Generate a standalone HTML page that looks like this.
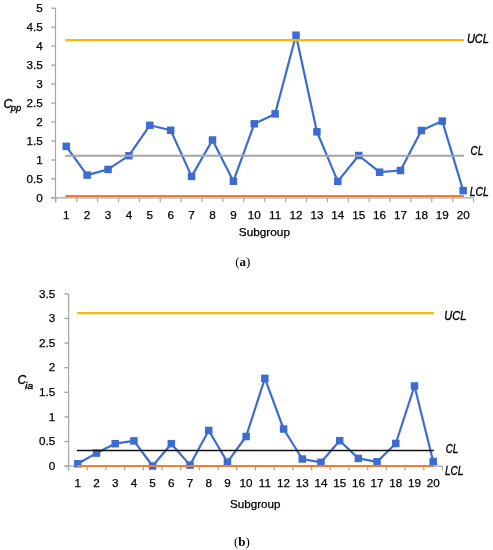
<!DOCTYPE html>
<html><head><meta charset="utf-8"><style>
html,body{margin:0;padding:0;background:#fff;}
svg{display:block;}
.axv{stroke:#A6A6A6;stroke-width:1.2;}
.axh{stroke:#A6A6A6;stroke-width:1.4;}
text{font-family:"Liberation Sans",sans-serif;fill:#000;stroke:#000;stroke-width:0.25px;}
.yl{font-size:11.7px;text-anchor:end;}
.xl{font-size:11.7px;text-anchor:middle;}
.ser{fill:none;stroke:#3C6CD0;stroke-width:2.2;stroke-linejoin:round;}
.mk{fill:#3C6CD0;}
.it{font-style:italic;font-size:12px;stroke-width:0.35px;}
.cap{font-family:"Liberation Serif",serif;font-size:13px;stroke:none;}
</style></head><body>
<svg width="493" height="550" viewBox="0 0 493 550">
<rect width="493" height="550" fill="#fff"/>
<line x1="55.5" y1="8.2" x2="55.5" y2="202.3" class="axv"/>
<line x1="51.3" y1="197.9" x2="473.6" y2="197.9" class="axh"/>
<line x1="51.3" y1="197.9" x2="55.5" y2="197.9" class="axh"/>
<text x="42.8" y="201.50" class="yl">0</text>
<line x1="51.3" y1="178.9" x2="55.5" y2="178.9" class="axh"/>
<text x="42.8" y="182.53" class="yl">0.5</text>
<line x1="51.3" y1="160.0" x2="55.5" y2="160.0" class="axh"/>
<text x="42.8" y="163.56" class="yl">1</text>
<line x1="51.3" y1="141.0" x2="55.5" y2="141.0" class="axh"/>
<text x="42.8" y="144.59" class="yl">1.5</text>
<line x1="51.3" y1="122.0" x2="55.5" y2="122.0" class="axh"/>
<text x="42.8" y="125.62" class="yl">2</text>
<line x1="51.3" y1="103.1" x2="55.5" y2="103.1" class="axh"/>
<text x="42.8" y="106.65" class="yl">2.5</text>
<line x1="51.3" y1="84.1" x2="55.5" y2="84.1" class="axh"/>
<text x="42.8" y="87.68" class="yl">3</text>
<line x1="51.3" y1="65.1" x2="55.5" y2="65.1" class="axh"/>
<text x="42.8" y="68.71" class="yl">3.5</text>
<line x1="51.3" y1="46.1" x2="55.5" y2="46.1" class="axh"/>
<text x="42.8" y="49.74" class="yl">4</text>
<line x1="51.3" y1="27.2" x2="55.5" y2="27.2" class="axh"/>
<text x="42.8" y="30.77" class="yl">4.5</text>
<line x1="51.3" y1="8.2" x2="55.5" y2="8.2" class="axh"/>
<text x="42.8" y="11.80" class="yl">5</text>
<line x1="55.8" y1="197.9" x2="55.8" y2="202.3" class="axv"/>
<line x1="76.7" y1="197.9" x2="76.7" y2="202.3" class="axv"/>
<line x1="97.6" y1="197.9" x2="97.6" y2="202.3" class="axv"/>
<line x1="118.5" y1="197.9" x2="118.5" y2="202.3" class="axv"/>
<line x1="139.4" y1="197.9" x2="139.4" y2="202.3" class="axv"/>
<line x1="160.2" y1="197.9" x2="160.2" y2="202.3" class="axv"/>
<line x1="181.1" y1="197.9" x2="181.1" y2="202.3" class="axv"/>
<line x1="202.0" y1="197.9" x2="202.0" y2="202.3" class="axv"/>
<line x1="222.9" y1="197.9" x2="222.9" y2="202.3" class="axv"/>
<line x1="243.8" y1="197.9" x2="243.8" y2="202.3" class="axv"/>
<line x1="264.7" y1="197.9" x2="264.7" y2="202.3" class="axv"/>
<line x1="285.6" y1="197.9" x2="285.6" y2="202.3" class="axv"/>
<line x1="306.5" y1="197.9" x2="306.5" y2="202.3" class="axv"/>
<line x1="327.4" y1="197.9" x2="327.4" y2="202.3" class="axv"/>
<line x1="348.3" y1="197.9" x2="348.3" y2="202.3" class="axv"/>
<line x1="369.2" y1="197.9" x2="369.2" y2="202.3" class="axv"/>
<line x1="390.0" y1="197.9" x2="390.0" y2="202.3" class="axv"/>
<line x1="410.9" y1="197.9" x2="410.9" y2="202.3" class="axv"/>
<line x1="431.8" y1="197.9" x2="431.8" y2="202.3" class="axv"/>
<line x1="452.7" y1="197.9" x2="452.7" y2="202.3" class="axv"/>
<line x1="473.6" y1="197.9" x2="473.6" y2="202.3" class="axv"/>
<text x="66.2" y="218.8" class="xl">1</text>
<text x="87.1" y="218.8" class="xl">2</text>
<text x="108.0" y="218.8" class="xl">3</text>
<text x="128.9" y="218.8" class="xl">4</text>
<text x="149.8" y="218.8" class="xl">5</text>
<text x="170.7" y="218.8" class="xl">6</text>
<text x="191.6" y="218.8" class="xl">7</text>
<text x="212.5" y="218.8" class="xl">8</text>
<text x="233.4" y="218.8" class="xl">9</text>
<text x="254.3" y="218.8" class="xl">10</text>
<text x="275.1" y="218.8" class="xl">11</text>
<text x="296.0" y="218.8" class="xl">12</text>
<text x="316.9" y="218.8" class="xl">13</text>
<text x="337.8" y="218.8" class="xl">14</text>
<text x="358.7" y="218.8" class="xl">15</text>
<text x="379.6" y="218.8" class="xl">16</text>
<text x="400.5" y="218.8" class="xl">17</text>
<text x="421.4" y="218.8" class="xl">18</text>
<text x="442.3" y="218.8" class="xl">19</text>
<text x="463.2" y="218.8" class="xl">20</text>
<polyline points="66.2,146.4 87.1,175.1 108.0,169.4 128.9,155.7 149.8,125.3 170.7,130.3 191.6,176.4 212.5,140.0 233.4,181.2 254.3,123.8 275.1,113.9 296.0,35.2 316.9,131.8 337.8,181.4 358.7,155.5 379.6,172.2 400.5,170.5 421.4,130.5 442.3,121.1 463.2,190.6" class="ser"/>
<rect x="62.50" y="142.65" width="7.5" height="7.5" class="mk"/>
<rect x="83.38" y="171.35" width="7.5" height="7.5" class="mk"/>
<rect x="104.28" y="165.65" width="7.5" height="7.5" class="mk"/>
<rect x="125.17" y="151.95" width="7.5" height="7.5" class="mk"/>
<rect x="146.06" y="121.55" width="7.5" height="7.5" class="mk"/>
<rect x="166.94" y="126.55" width="7.5" height="7.5" class="mk"/>
<rect x="187.83" y="172.65" width="7.5" height="7.5" class="mk"/>
<rect x="208.73" y="136.25" width="7.5" height="7.5" class="mk"/>
<rect x="229.62" y="177.45" width="7.5" height="7.5" class="mk"/>
<rect x="250.50" y="120.05" width="7.5" height="7.5" class="mk"/>
<rect x="271.39" y="110.15" width="7.5" height="7.5" class="mk"/>
<rect x="292.29" y="31.45" width="7.5" height="7.5" class="mk"/>
<rect x="313.18" y="128.05" width="7.5" height="7.5" class="mk"/>
<rect x="334.06" y="177.65" width="7.5" height="7.5" class="mk"/>
<rect x="354.96" y="151.75" width="7.5" height="7.5" class="mk"/>
<rect x="375.85" y="168.45" width="7.5" height="7.5" class="mk"/>
<rect x="396.74" y="166.75" width="7.5" height="7.5" class="mk"/>
<rect x="417.62" y="126.75" width="7.5" height="7.5" class="mk"/>
<rect x="438.52" y="117.35" width="7.5" height="7.5" class="mk"/>
<rect x="459.41" y="186.85" width="7.5" height="7.5" class="mk"/>
<line x1="65.3" y1="40.2" x2="463.9" y2="40.2" stroke="#FFB700" stroke-width="2.2" stroke-linecap="butt"/>
<line x1="65.3" y1="155.8" x2="463.9" y2="155.8" stroke="#A5A5A5" stroke-width="1.9" stroke-linecap="butt"/>
<line x1="65.3" y1="196.0" x2="463.9" y2="196.0" stroke="#ED7D31" stroke-width="2.2" stroke-linecap="butt"/>
<line x1="68.6" y1="293.9" x2="68.6" y2="470.5" class="axv"/>
<line x1="64.4" y1="466.1" x2="442.5" y2="466.1" class="axh"/>
<line x1="64.4" y1="466.1" x2="68.6" y2="466.1" class="axh"/>
<text x="55.3" y="469.70" class="yl">0</text>
<line x1="64.4" y1="441.5" x2="68.6" y2="441.5" class="axh"/>
<text x="55.3" y="445.10" class="yl">0.5</text>
<line x1="64.4" y1="416.9" x2="68.6" y2="416.9" class="axh"/>
<text x="55.3" y="420.50" class="yl">1</text>
<line x1="64.4" y1="392.3" x2="68.6" y2="392.3" class="axh"/>
<text x="55.3" y="395.90" class="yl">1.5</text>
<line x1="64.4" y1="367.7" x2="68.6" y2="367.7" class="axh"/>
<text x="55.3" y="371.30" class="yl">2</text>
<line x1="64.4" y1="343.1" x2="68.6" y2="343.1" class="axh"/>
<text x="55.3" y="346.70" class="yl">2.5</text>
<line x1="64.4" y1="318.5" x2="68.6" y2="318.5" class="axh"/>
<text x="55.3" y="322.10" class="yl">3</text>
<line x1="64.4" y1="293.9" x2="68.6" y2="293.9" class="axh"/>
<text x="55.3" y="297.50" class="yl">3.5</text>
<line x1="68.5" y1="466.1" x2="68.5" y2="470.5" class="axv"/>
<line x1="87.2" y1="466.1" x2="87.2" y2="470.5" class="axv"/>
<line x1="105.9" y1="466.1" x2="105.9" y2="470.5" class="axv"/>
<line x1="124.6" y1="466.1" x2="124.6" y2="470.5" class="axv"/>
<line x1="143.3" y1="466.1" x2="143.3" y2="470.5" class="axv"/>
<line x1="162.0" y1="466.1" x2="162.0" y2="470.5" class="axv"/>
<line x1="180.7" y1="466.1" x2="180.7" y2="470.5" class="axv"/>
<line x1="199.4" y1="466.1" x2="199.4" y2="470.5" class="axv"/>
<line x1="218.1" y1="466.1" x2="218.1" y2="470.5" class="axv"/>
<line x1="236.8" y1="466.1" x2="236.8" y2="470.5" class="axv"/>
<line x1="255.5" y1="466.1" x2="255.5" y2="470.5" class="axv"/>
<line x1="274.2" y1="466.1" x2="274.2" y2="470.5" class="axv"/>
<line x1="292.9" y1="466.1" x2="292.9" y2="470.5" class="axv"/>
<line x1="311.6" y1="466.1" x2="311.6" y2="470.5" class="axv"/>
<line x1="330.3" y1="466.1" x2="330.3" y2="470.5" class="axv"/>
<line x1="349.0" y1="466.1" x2="349.0" y2="470.5" class="axv"/>
<line x1="367.7" y1="466.1" x2="367.7" y2="470.5" class="axv"/>
<line x1="386.4" y1="466.1" x2="386.4" y2="470.5" class="axv"/>
<line x1="405.1" y1="466.1" x2="405.1" y2="470.5" class="axv"/>
<line x1="423.8" y1="466.1" x2="423.8" y2="470.5" class="axv"/>
<line x1="442.5" y1="466.1" x2="442.5" y2="470.5" class="axv"/>
<text x="77.8" y="487.3" class="xl">1</text>
<text x="96.5" y="487.3" class="xl">2</text>
<text x="115.2" y="487.3" class="xl">3</text>
<text x="133.9" y="487.3" class="xl">4</text>
<text x="152.6" y="487.3" class="xl">5</text>
<text x="171.3" y="487.3" class="xl">6</text>
<text x="190.0" y="487.3" class="xl">7</text>
<text x="208.7" y="487.3" class="xl">8</text>
<text x="227.4" y="487.3" class="xl">9</text>
<text x="246.1" y="487.3" class="xl">10</text>
<text x="264.9" y="487.3" class="xl">11</text>
<text x="283.6" y="487.3" class="xl">12</text>
<text x="302.3" y="487.3" class="xl">13</text>
<text x="321.0" y="487.3" class="xl">14</text>
<text x="339.7" y="487.3" class="xl">15</text>
<text x="358.4" y="487.3" class="xl">16</text>
<text x="377.1" y="487.3" class="xl">17</text>
<text x="395.8" y="487.3" class="xl">18</text>
<text x="414.5" y="487.3" class="xl">19</text>
<text x="433.2" y="487.3" class="xl">20</text>
<polyline points="77.8,463.8 96.5,453.1 115.2,443.7 133.9,440.9 152.6,466.0 171.3,443.7 190.0,465.1 208.7,430.5 227.4,462.1 246.1,436.5 264.9,378.4 283.6,429.0 302.3,459.0 321.0,462.3 339.7,440.7 358.4,458.4 377.1,461.8 395.8,443.5 414.5,386.0 433.2,461.5" class="ser"/>
<rect x="74.05" y="460.05" width="7.5" height="7.5" class="mk"/>
<rect x="92.76" y="449.35" width="7.5" height="7.5" class="mk"/>
<rect x="111.46" y="439.95" width="7.5" height="7.5" class="mk"/>
<rect x="130.17" y="437.15" width="7.5" height="7.5" class="mk"/>
<rect x="148.87" y="462.25" width="7.5" height="7.5" class="mk"/>
<rect x="167.58" y="439.95" width="7.5" height="7.5" class="mk"/>
<rect x="186.28" y="461.35" width="7.5" height="7.5" class="mk"/>
<rect x="204.99" y="426.75" width="7.5" height="7.5" class="mk"/>
<rect x="223.69" y="458.35" width="7.5" height="7.5" class="mk"/>
<rect x="242.40" y="432.75" width="7.5" height="7.5" class="mk"/>
<rect x="261.10" y="374.65" width="7.5" height="7.5" class="mk"/>
<rect x="279.81" y="425.25" width="7.5" height="7.5" class="mk"/>
<rect x="298.51" y="455.25" width="7.5" height="7.5" class="mk"/>
<rect x="317.22" y="458.55" width="7.5" height="7.5" class="mk"/>
<rect x="335.92" y="436.95" width="7.5" height="7.5" class="mk"/>
<rect x="354.63" y="454.65" width="7.5" height="7.5" class="mk"/>
<rect x="373.33" y="458.05" width="7.5" height="7.5" class="mk"/>
<rect x="392.04" y="439.75" width="7.5" height="7.5" class="mk"/>
<rect x="410.74" y="382.25" width="7.5" height="7.5" class="mk"/>
<rect x="429.45" y="457.75" width="7.5" height="7.5" class="mk"/>
<line x1="76.9" y1="313.1" x2="433.9" y2="313.1" stroke="#FFB700" stroke-width="2.2" stroke-linecap="butt"/>
<line x1="76.9" y1="450.5" x2="433.9" y2="450.5" stroke="#111" stroke-width="1.4" stroke-linecap="butt"/>
<line x1="76.9" y1="466.0" x2="433.9" y2="466.0" stroke="#ED7D31" stroke-width="2.2" stroke-linecap="butt"/>
<text x="466.9" y="43.3" class="it" textLength="22" lengthAdjust="spacingAndGlyphs">UCL</text>
<text x="470.6" y="155.4" class="it" textLength="12.7" lengthAdjust="spacingAndGlyphs">CL</text>
<text x="469.7" y="195.8" class="it" textLength="19.1" lengthAdjust="spacingAndGlyphs">LCL</text>
<text x="444.3" y="319.6" class="it" textLength="22" lengthAdjust="spacingAndGlyphs">UCL</text>
<text x="445.8" y="452.9" class="it" textLength="12.5" lengthAdjust="spacingAndGlyphs">CL</text>
<text x="444.9" y="474.6" class="it" textLength="18.5" lengthAdjust="spacingAndGlyphs">LCL</text>
<text x="3.6" y="107.6" class="it" font-size="12">C</text><text x="10.8" y="110.8" class="it" style="font-size:9px" textLength="10.5" lengthAdjust="spacingAndGlyphs">pp</text>
<text x="17.6" y="384.2" class="it" font-size="12">C</text><text x="24.9" y="389.2" class="it" style="font-size:9px" textLength="8.3" lengthAdjust="spacingAndGlyphs">ia</text>
<text x="238.8" y="235.6" style="font-size:11.2px" textLength="51.2" lengthAdjust="spacingAndGlyphs">Subgroup</text>
<text x="230.0" y="507.5" style="font-size:11.2px" textLength="50.4" lengthAdjust="spacingAndGlyphs">Subgroup</text>
<text x="235.2" y="266" class="cap">(<tspan font-weight="bold">a</tspan>)</text>
<text x="234.0" y="545.8" class="cap">(<tspan font-weight="bold">b</tspan>)</text>
</svg>
</body></html>
